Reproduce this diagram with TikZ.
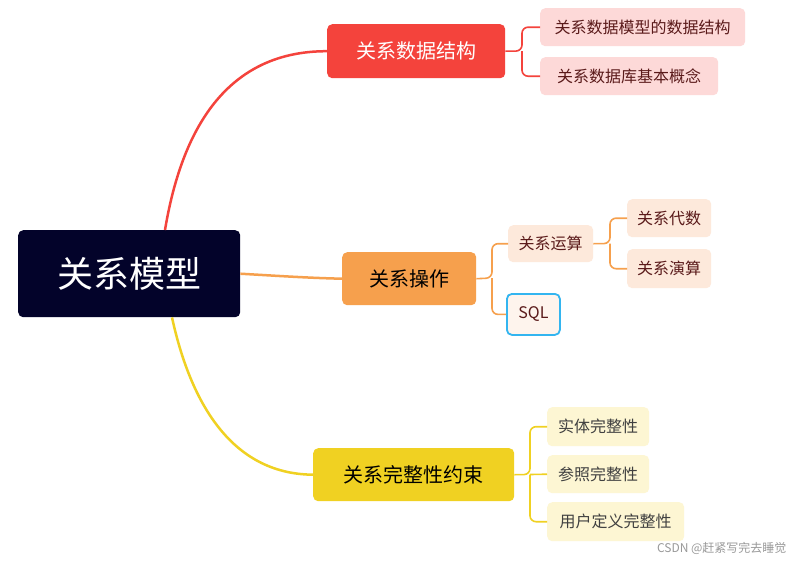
\documentclass[tikz,border=0pt]{standalone}
\usepackage{fontspec}
\setmainfont{Noto Sans CJK SC}
\begin{document}
\begin{tikzpicture}[x=1pt,y=-1pt,
  box/.style={rounded corners=5pt,inner sep=0pt,anchor=north west},
  lv1/.style={box,font=\fontsize{20}{22}\selectfont},
  lv2/.style={box,font=\fontsize{16}{18}\selectfont},
  ln/.style={line width=2.5pt},
  ln2/.style={line width=1.6pt,rounded corners=6pt}]
\definecolor{navy}{HTML}{03032A}
\definecolor{cred}{HTML}{F4433C}
\definecolor{cpink}{HTML}{FDD9D8}
\definecolor{ctred}{HTML}{5A1A1A}
\definecolor{corg}{HTML}{F6A04D}
\definecolor{clorg}{HTML}{FDE9DB}
\definecolor{cyel}{HTML}{F0D122}
\definecolor{clyel}{HTML}{FDF6D3}
\definecolor{ccyan}{HTML}{33B5F0}
\useasboundingbox (0,0) rectangle (801,563);
\fill[white] (0,0) rectangle (801,563);
% root
\node[box,fill=navy,text=white,minimum width=222pt,minimum height=87pt,font=\fontsize{36}{40}\selectfont] (root) at (18,230) {关系模型};
% level 1
\node[lv1,fill=cred,text=white,minimum width=178pt,minimum height=54pt] (a) at (327,24) {关系数据结构};
\node[lv1,fill=corg,text=black,minimum width=134pt,minimum height=53pt] (b) at (342,252) {关系操作};
\node[lv1,fill=cyel,text=black,minimum width=201pt,minimum height=53pt] (c) at (313,448) {关系完整性约束};
% level 2
\node[lv2,fill=cpink,text=ctred,minimum width=205pt,minimum height=38pt] (a1) at (540,8) {关系数据模型的数据结构};
\node[lv2,fill=cpink,text=ctred,minimum width=178pt,minimum height=38pt] (a2) at (540,57) {关系数据库基本概念};
\node[lv2,fill=clorg,text=ctred,minimum width=85pt,minimum height=37pt] (b1) at (508,225) {关系运算};
\node[lv2,fill=clorg,text=ctred,minimum width=84pt,minimum height=38pt] (b11) at (627,199) {关系代数};
\node[lv2,fill=clorg,text=ctred,minimum width=84pt,minimum height=39pt] (b12) at (627,249) {关系演算};
\node[lv2,fill=clorg!50,draw=ccyan,line width=1.8pt,text=ctred,minimum width=53pt,minimum height=41pt] (b2) at (506,293) {SQL};
\node[lv2,fill=clyel,text=black!75,minimum width=102pt,minimum height=39pt] (c1) at (547,407) {实体完整性};
\node[lv2,fill=clyel,text=black!75,minimum width=102pt,minimum height=38pt] (c2) at (547,455) {参照完整性};
\node[lv2,fill=clyel,text=black!75,minimum width=137pt,minimum height=39pt] (c3) at (547,502) {用户定义完整性};
% main connectors
\draw[ln,cred] (root.north west)++(147,0) .. controls (180,140) and (220,51) .. (a.west);
\draw[ln,corg] (root.east) .. controls (280,276) and (310,278) .. (b.west);
\draw[ln,cyel] (root.south west)++(154,0) .. controls (190,400) and (230,474) .. (c.west);
% brackets
\draw[ln2,cred] (a.east) -- (522,51) |- (a1.west);
\draw[ln2,cred] (522,51) |- (a2.west);
\draw[ln2,corg] (b.east) -- (492,278) |- (b1.west);
\draw[ln2,corg] (492,278) |- (b2.west);
\draw[ln2,corg] (b1.east) -- (610,243.5) |- (b11.west);
\draw[ln2,corg] (610,243.5) |- (b12.west);
\draw[ln2,cyel] (c.east) -- (530,474.5) |- (c1.west);
\draw[ln2,cyel] (530,474.5) -- (c2.west);
\draw[ln2,cyel] (530,474.5) |- (c3.west);
\node[anchor=east,text=black!40,font=\fontsize{12}{14}\selectfont] (wm) at (790,548) {CSDN @赶紧写完去睡觉};
\end{tikzpicture}
\end{document}
